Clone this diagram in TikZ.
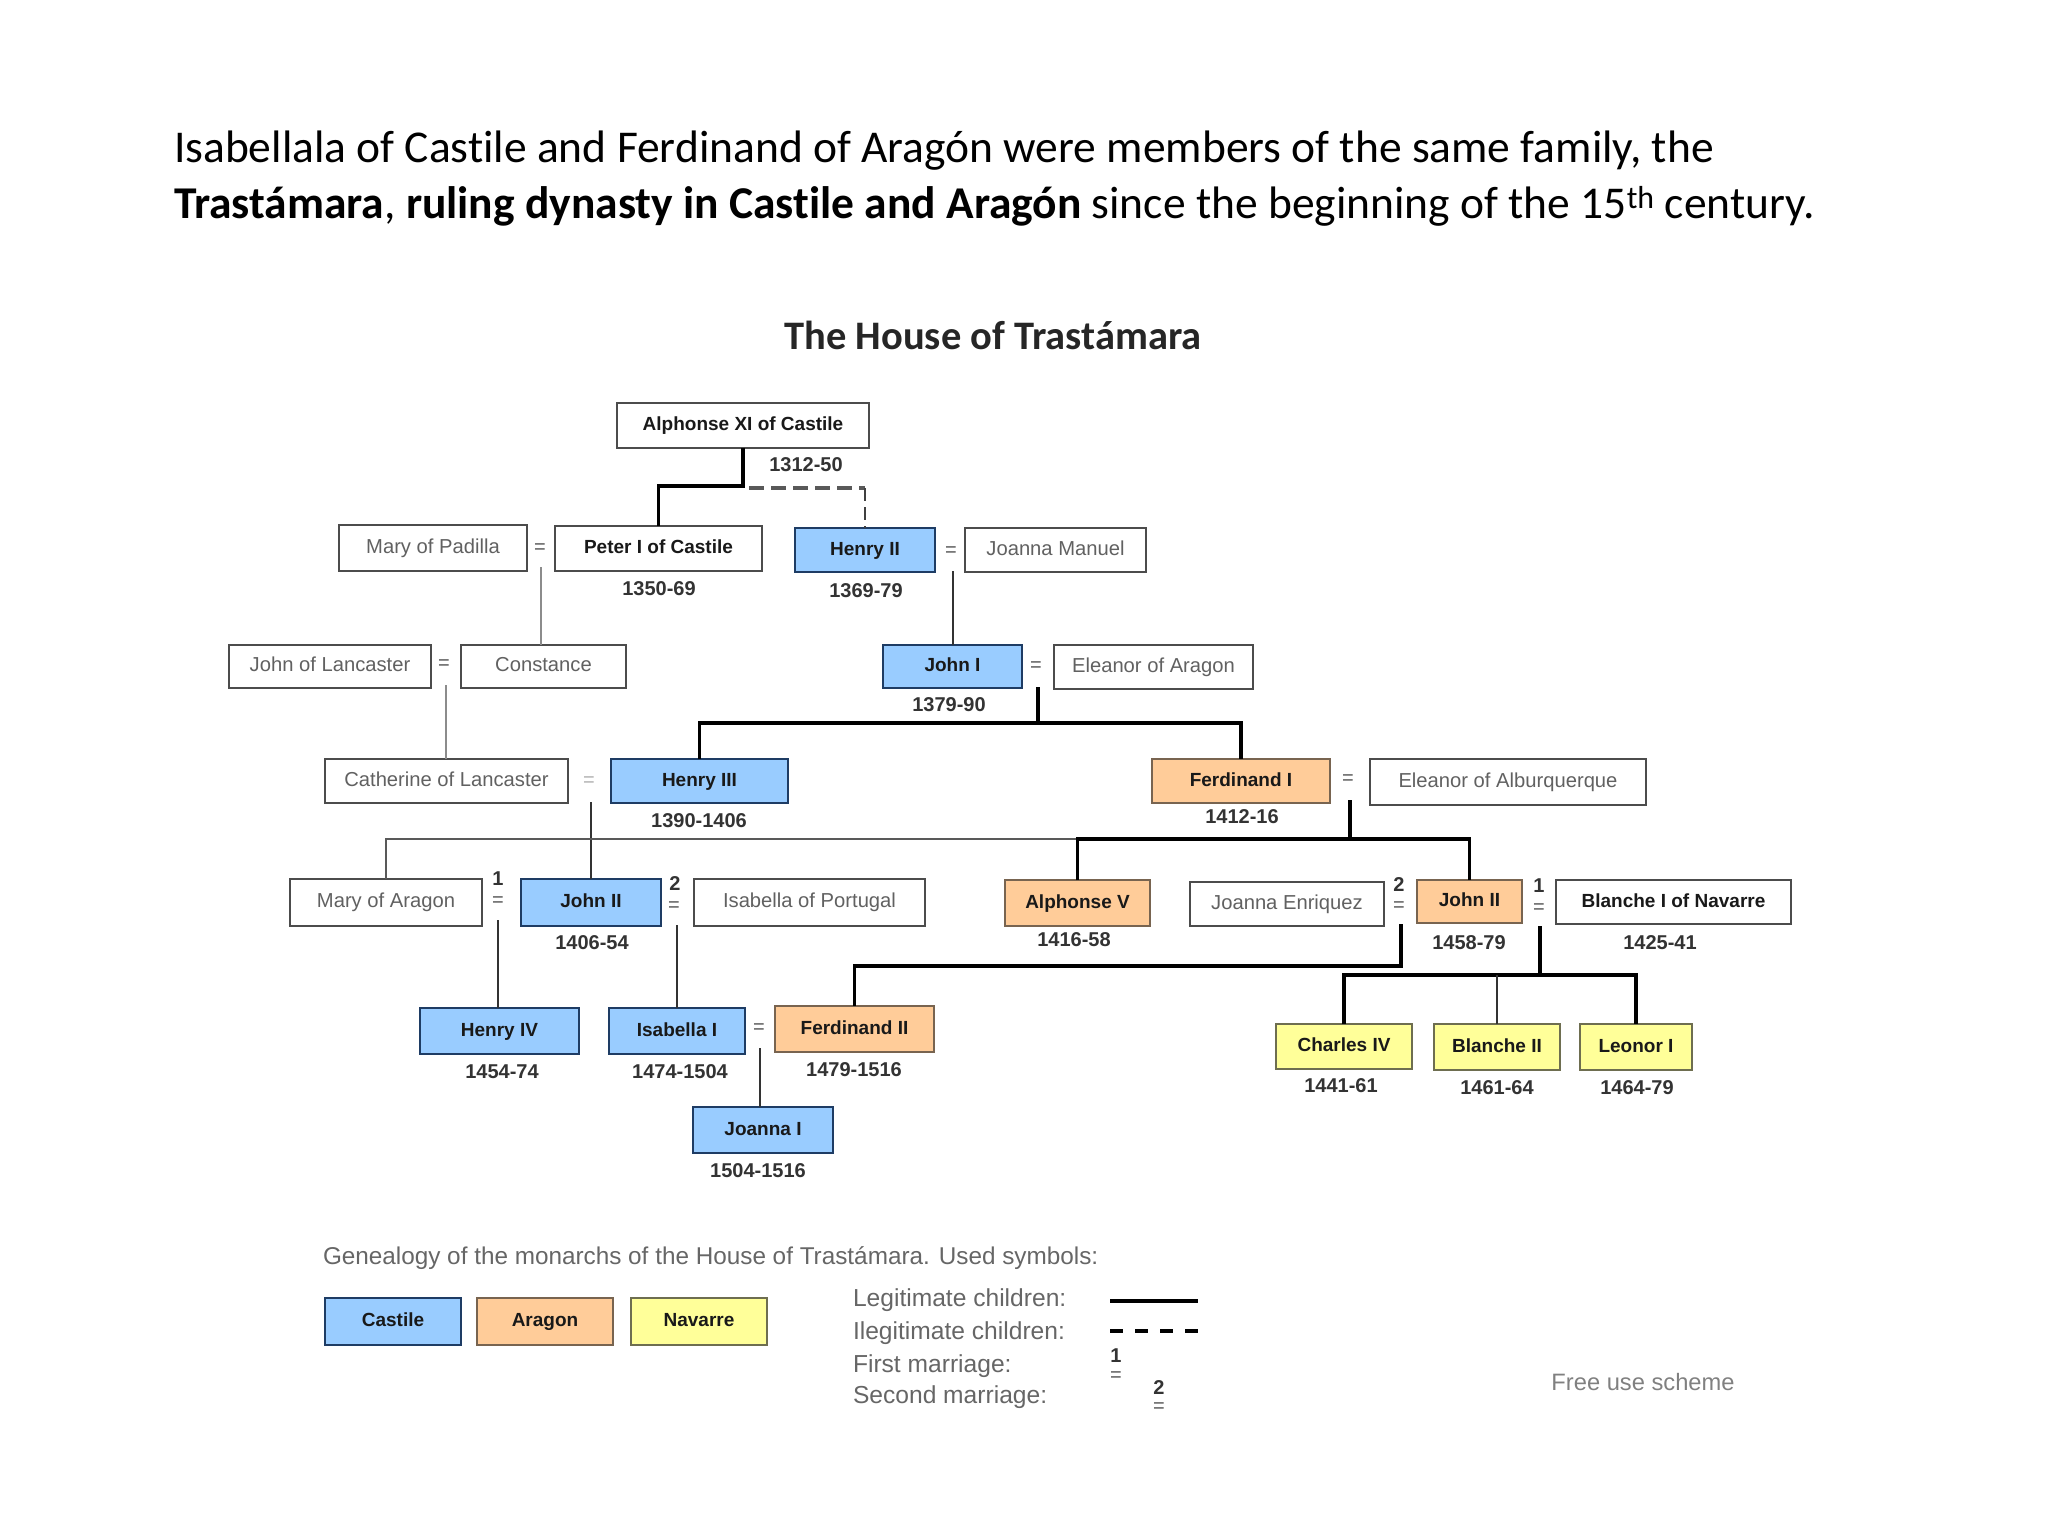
\documentclass[tikz,border=0pt]{standalone}
\usepackage{fontspec}
\setmainfont{Liberation Sans}
\newfontfamily\slidefont[Ligatures=NoCommon]{Carlito}
\definecolor{cbl}{RGB}{153,204,255}
\definecolor{cbld}{RGB}{30,60,100}
\definecolor{cor}{RGB}{255,204,153}
\definecolor{cord}{RGB}{120,100,80}
\definecolor{cye}{RGB}{255,255,153}
\definecolor{cyed}{RGB}{110,110,80}
\tikzset{
  x=1pt,y=-1pt,
  every node/.style={inner sep=0pt,outer sep=0pt,align=center},
  person/.style={rectangle,draw=#1,line width=2.6pt,font=\fontsize{19}{21}\selectfont\bfseries,text=black!90,text height=14pt,text depth=4pt},
  spouse/.style={person=black!70,fill=white,font=\fontsize{20.2}{22}\selectfont,text=black!62},
  noble/.style={person=black!70,fill=white},
  castile/.style={person=cbld,fill=cbl},
  aragon/.style={person=cord,fill=cor},
  navarre/.style={person=cyed,fill=cye},
  dates/.style={font=\fontsize{20}{22}\selectfont\bfseries,text=black!80},
  eqmark/.style={font=\fontsize{20}{22}\selectfont,text=black!65},
  nummark/.style={font=\fontsize{20}{22}\selectfont\bfseries,text=black!80},
  legendtext/.style={font=\fontsize{24.6}{28}\selectfont,text=black!60,anchor=west},
  strong/.style={draw=black,line width=3.4pt},
  medium/.style={draw=black!80,line width=2.6pt},
  faint/.style={draw=black!45,line width=2pt},
  dashline/.style={draw=black!65,line width=4.4pt,dash pattern=on 15pt off 7pt},
  dashthin/.style={draw=black!75,line width=2.6pt,dash pattern=on 13pt off 6pt},
}
\newcommand{\pbox}[7]{%
  \pgfmathsetmacro{\pbw}{#4-#3}\pgfmathsetmacro{\pbh}{#6-#5}%
  \pgfmathsetmacro{\pbx}{(#4+#3)/2}\pgfmathsetmacro{\pby}{(#6+#5)/2}%
  \node[#1,minimum width=\pbw pt,minimum height=\pbh pt] (#2) at (\pbx,\pby) {#7};}
\begin{document}
\begin{tikzpicture}
\useasboundingbox (0,0) rectangle (2048,1536);
% slide text
\node[anchor=base west,font=\slidefont\fontsize{45.5}{54}\selectfont] (line1) at (174,163) {Isabellala of Castile and Ferdinand of Aragón were members of the same family, the};
\node[anchor=base west,font=\slidefont\fontsize{45.5}{54}\selectfont] (line2) at (174,218) {\textbf{Trastámara}, \textbf{ruling dynasty in Castile and Aragón} since the beginning of the 15\textsuperscript{th} century.};
\node[font=\slidefont\bfseries\fontsize{40.5}{46}\selectfont,text=black!85] (title) at (993,335) {The House of Trastámara};

% boxes
\pbox{noble}{alphonse}{617}{869}{403}{448}{Alphonse XI of Castile}
\pbox{spouse}{mary}{339}{527}{525}{571}{Mary of Padilla}
\pbox{noble}{peter}{555}{762}{526}{571}{Peter I of Castile}
\pbox{castile}{henryii}{795}{935}{528}{572}{Henry II}
\pbox{spouse}{joanman}{965}{1146}{528}{572}{Joanna Manuel}
\pbox{spouse}{johnlan}{229}{431}{645}{688}{John of Lancaster}
\pbox{spouse}{constance}{461}{626}{645}{688}{Constance}
\pbox{castile}{johni}{883}{1022}{645}{688}{John I}
\pbox{spouse}{eleanor}{1054}{1253}{645}{689}{Eleanor of Aragon}
\pbox{spouse}{catherine}{325}{568}{759}{803}{Catherine of Lancaster}
\pbox{castile}{henryiii}{611}{788}{759}{803}{Henry III}
\pbox{aragon}{ferdi}{1152}{1330}{759}{803}{Ferdinand I}
\pbox{spouse}{alburq}{1370}{1646}{759}{805}{Eleanor of Alburquerque}
\pbox{spouse}{maryar}{290}{482}{879}{926}{Mary of Aragon}
\pbox{castile}{johnii}{521}{661}{879}{926}{John II}
\pbox{spouse}{isaport}{694}{925}{879}{926}{Isabella of Portugal}
\pbox{aragon}{alphv}{1005}{1150}{880}{926}{Alphonse V}
\pbox{spouse}{joaenr}{1190}{1384}{882}{926}{Joanna Enriquez}
\pbox{aragon}{johniia}{1417}{1522}{880}{923}{John II}
\pbox{noble}{blanchei}{1556}{1791}{880}{924}{Blanche I of Navarre}
\pbox{castile}{henryiv}{420}{579}{1008}{1054}{Henry IV}
\pbox{castile}{isabella}{609}{745}{1008}{1054}{Isabella I}
\pbox{aragon}{ferdii}{775}{934}{1006}{1052}{Ferdinand II}
\pbox{navarre}{charles}{1276}{1412}{1024}{1069}{Charles IV}
\pbox{navarre}{blanchii}{1434}{1560}{1024}{1070}{Blanche II}
\pbox{navarre}{leonor}{1580}{1692}{1024}{1070}{Leonor I}
\pbox{castile}{joannai}{693}{833}{1107}{1153}{Joanna I}
\pbox{castile}{legc}{325}{461}{1298}{1345}{Castile}
\pbox{aragon}{lega}{477}{613}{1298}{1345}{Aragon}
\pbox{navarre}{legn}{631}{767}{1298}{1345}{Navarre}

% dates
\node[dates] (d1) at (806,465) {1312-50};
\node[dates] (d2) at (659,589) {1350-69};
\node[dates] (d3) at (866,591) {1369-79};
\node[dates] (d4) at (949,705) {1379-90};
\node[dates] (d5) at (699,821) {1390-1406};
\node[dates] (d6) at (1242,817) {1412-16};
\node[dates] (d7) at (592,943) {1406-54};
\node[dates] (d8) at (1074,940) {1416-58};
\node[dates] (d9) at (1469,943) {1458-79};
\node[dates] (d10) at (1660,943) {1425-41};
\node[dates] (d11) at (502,1072) {1454-74};
\node[dates] (d12) at (680,1072) {1474-1504};
\node[dates] (d13) at (854,1070) {1479-1516};
\node[dates] (d14) at (1341,1086) {1441-61};
\node[dates] (d15) at (1497,1088) {1461-64};
\node[dates] (d16) at (1637,1088) {1464-79};
\node[dates] (d17) at (758,1171) {1504-1516};

% marriage marks
\node[eqmark] (e1) at (540,549) {=};
\node[eqmark] (e2) at (951,552) {=};
\node[eqmark] (e3) at (444,665) {=};
\node[eqmark] (e4) at (1036,667) {=};
\node[eqmark,text=black!30] (e5) at (589,782) {=};
\node[eqmark] (e6) at (1348,780) {=};
\node[eqmark] (e7) at (498,902) {=};
\node[eqmark] (e8) at (674,907) {=};
\node[eqmark] (e9) at (1399,907) {=};
\node[eqmark] (e10) at (1539,909) {=};
\node[eqmark] (e11) at (759,1029) {=};
\node[nummark] (n1) at (498,879) {1};
\node[nummark] (n2) at (675,884) {2};
\node[nummark] (n3) at (1399,885) {2};
\node[nummark] (n4) at (1539,886) {1};

% junctions
\coordinate (j1) at (743,486);
\coordinate (jd) at (865,488);
\coordinate (s1) at (541,567);
\coordinate (s2) at (446,685);
\coordinate (s3) at (591,802);
\coordinate (s4) at (953,571);
\coordinate (s5) at (1038,687);
\coordinate (j2) at (1038,723);
\coordinate (s6) at (1350,800);
\coordinate (j3) at (1350,839);
\coordinate (s7) at (498,920);
\coordinate (s8) at (677,925);
\coordinate (s9) at (1401,924);
\coordinate (j4) at (1401,966);
\coordinate (s10) at (1540,926);
\coordinate (j5) at (1540,975);
\coordinate (s11) at (760,1048);

% connectors
\draw[strong] (alphonse.south) -- (j1) -| (peter.north);
\draw[dashline] (j1) ++(6,2) -- (jd);
\draw[dashthin] (jd) -- (henryii.north);
\draw[faint] (s1) -- (s1 |- constance.north);
\draw[faint] (s2) -- (s2 |- catherine.north);
\draw[medium] (s4) -- (s4 |- johni.north);
\draw[strong] (s5) -- (j2);
\draw[strong] (henryiii.north) |- (j2) -| (ferdi.north);
\draw[medium] (s3) -- (s3 |- johnii.north);
\draw[medium,line width=2pt,draw=black!65] (maryar.north) |- (j3);
\draw[strong] (s6) -- (j3);
\draw[strong] (alphv.north) |- (j3) -| (johniia.north);
\draw[medium] (s7) -- (s7 |- henryiv.north);
\draw[medium] (s8) -- (s8 |- isabella.north);
\draw[strong] (s9) -- (j4) -| (ferdii.north);
\draw[strong,line width=4.5pt] (s10) -- (j5);
\draw[strong] (charles.north) |- (j5) -| (leonor.north);
\draw[medium] (blanchii.north) -- (blanchii.north |- j5);
\draw[medium] (s11) -- (s11 |- joannai.north);

% legend
\node[legendtext,font=\fontsize{24.3}{28}\selectfont] (cap) at (323,1258) {Genealogy of the monarchs of the House of Trastámara. Used symbols:};
\node[legendtext] (l1) at (853,1300) {Legitimate children:};
\node[legendtext] (l2) at (853,1333) {Ilegitimate children:};
\node[legendtext] (l3) at (853,1366) {First marriage:};
\node[legendtext] (l4) at (853,1397) {Second marriage:};
\coordinate (la) at (1110,1301);
\coordinate (lb) at (1198,1301);
\coordinate (lc) at (1110,1331);
\coordinate (ld) at (1198,1331);
\draw[strong] (la) -- (lb);
\draw[strong,dash pattern=on 13pt off 12pt] (lc) -- (ld);
\node[nummark] (ln1) at (1116,1356) {1};
\node[eqmark] (le1) at (1116,1377) {=};
\node[nummark] (ln2) at (1159,1388) {2};
\node[eqmark] (le2) at (1159,1408) {=};
\node[font=\fontsize{23.7}{27}\selectfont,text=black!50] (free) at (1643,1382) {Free use scheme};
\end{tikzpicture}
\end{document}
